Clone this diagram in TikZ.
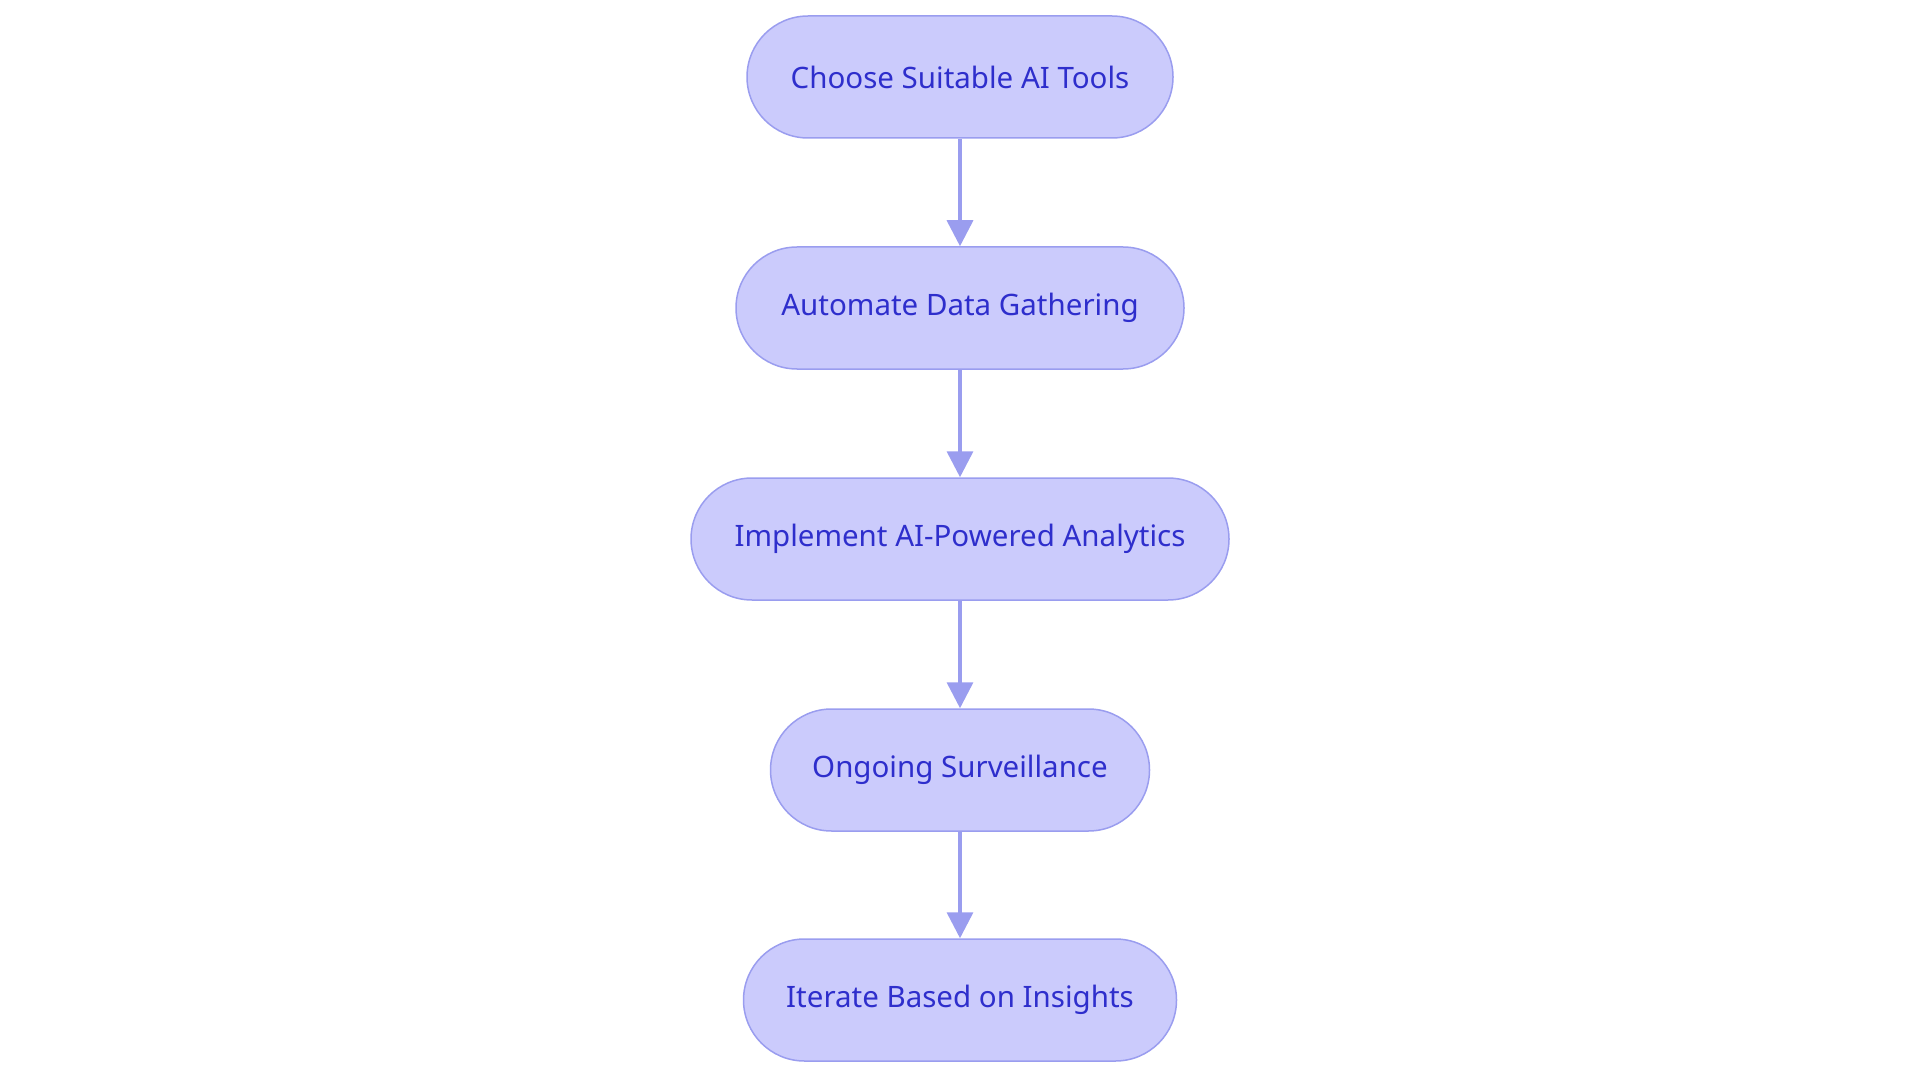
\documentclass[tikz,border=0pt]{standalone}
\usepackage{fontspec}
\setmainfont{Noto Sans}
\usetikzlibrary{arrows.meta}
\definecolor{fillc}{HTML}{CBCBFC}
\definecolor{linec}{HTML}{9A9DEF}
\definecolor{textc}{HTML}{2E2ECC}
\begin{document}
\begin{tikzpicture}[x=1pt,y=-1pt,
  box/.style={rectangle,rounded corners=61pt,draw=linec,line width=1.5pt,fill=fillc,text=textc,
    font=\fontsize{29.5}{34}\selectfont,minimum height=122pt},
  arr/.style={draw=linec,line width=3.5pt,-{Triangle[length=26pt,width=26pt]}}]
\useasboundingbox (0,0) rectangle (1920,1083);
\node[box,minimum width=426pt] (a) at (960,77) {Choose Suitable AI Tools};
\node[box,minimum width=448pt] (b) at (960,308) {Automate Data Gathering};
\node[box,minimum width=538pt] (c) at (960,539) {Implement AI-Powered Analytics};
\node[box,minimum width=379pt] (d) at (960,770) {Ongoing Surveillance};
\node[box,minimum width=433pt] (e) at (960,1000) {Iterate Based on Insights};
\draw[arr] (a) -- (b);
\draw[arr] (b) -- (c);
\draw[arr] (c) -- (d);
\draw[arr] (d) -- (e);
\end{tikzpicture}
\end{document}
